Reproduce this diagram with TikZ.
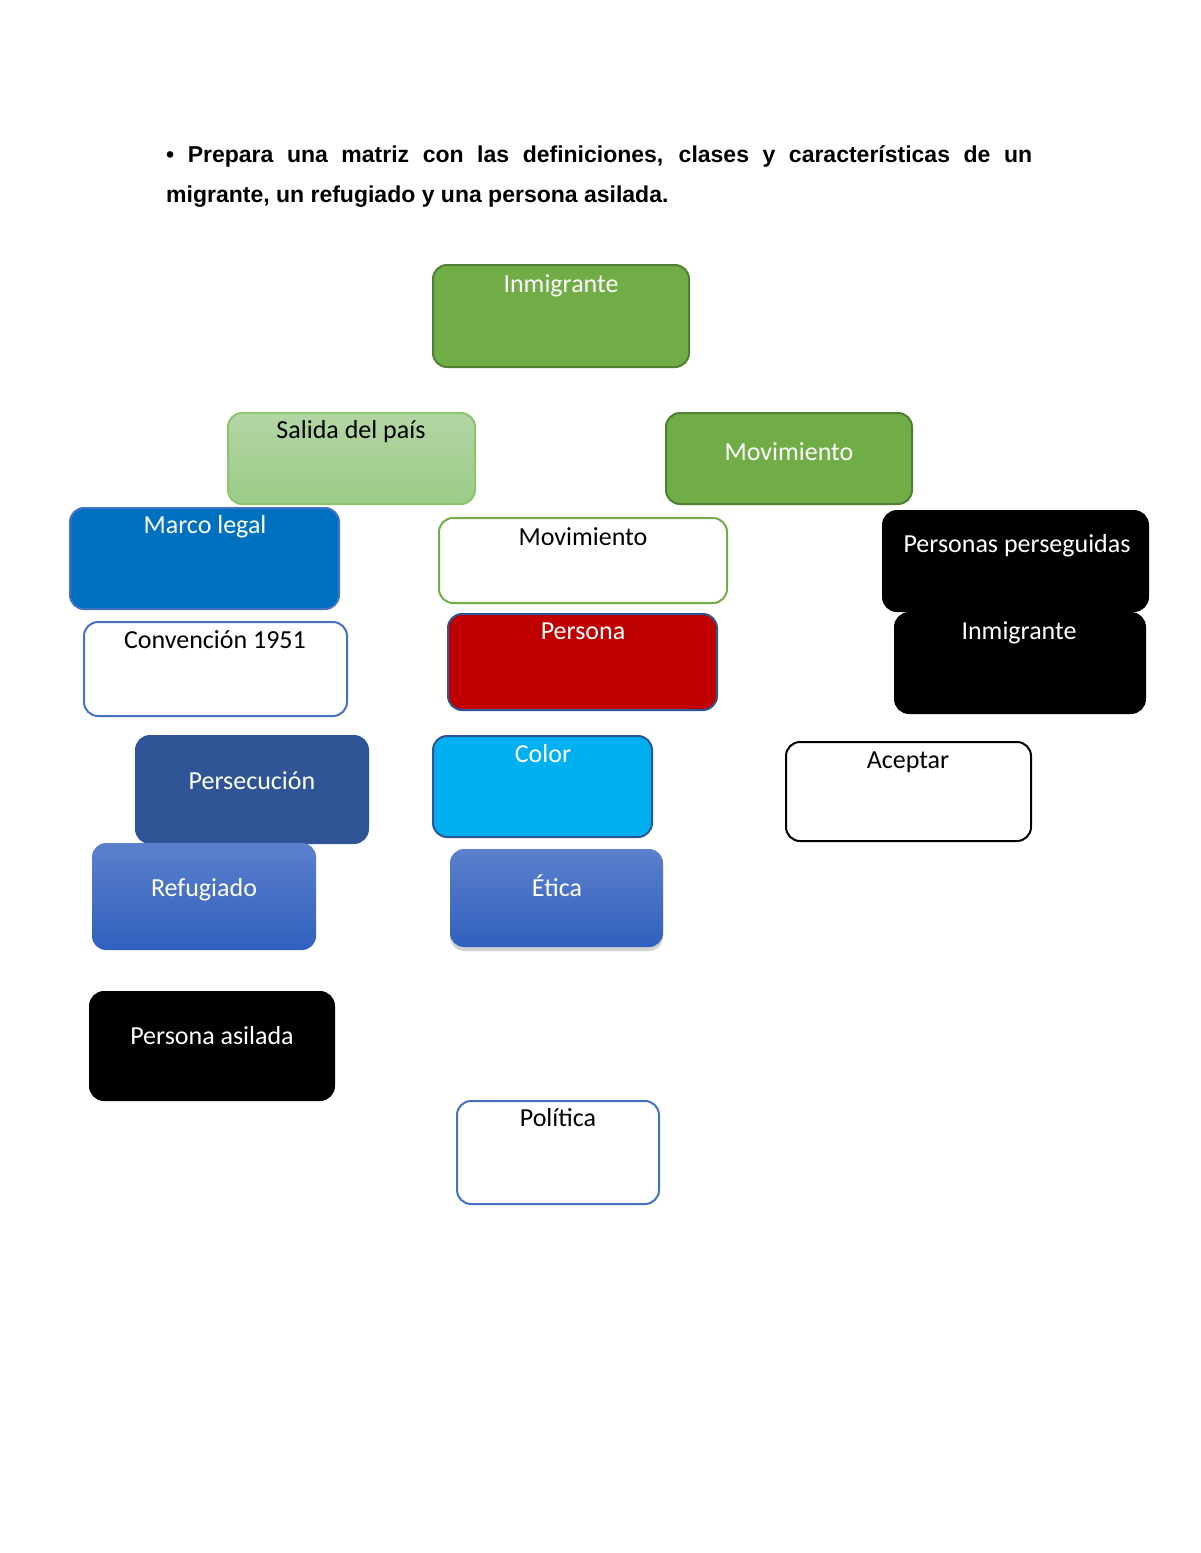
\documentclass[tikz,border=0pt]{standalone}
\usepackage{fontspec}
\setmainfont{Carlito}
\newfontfamily\headfont{Liberation Sans}
\usetikzlibrary{shadows}
\definecolor{gfill}{HTML}{70AD47}
\definecolor{gedge}{HTML}{507E32}
\definecolor{lgtop}{HTML}{B3D6A4}
\definecolor{lgbot}{HTML}{9CCB87}
\definecolor{lgedge}{HTML}{8CC46F}
\definecolor{bfill}{HTML}{0070C0}
\definecolor{bedge}{HTML}{4472C4}
\definecolor{rfill}{HTML}{C00000}
\definecolor{navy}{HTML}{2F5597}
\definecolor{cyanf}{HTML}{00B0F0}
\definecolor{gbtop}{HTML}{5B80CC}
\definecolor{gbbot}{HTML}{3060BE}
\tikzset{
  x=1pt,y=-1pt,
  box/.style={rounded corners=14pt, inner sep=0pt, line width=2pt},
  lbl/.style={anchor=mid, inner sep=0pt, font=\fontsize{26}{30}\selectfont},
  wl/.style={lbl, text=white},
  bl/.style={lbl, text=black},
  head/.style={anchor=base west, inner sep=0pt, font=\headfont\bfseries\fontsize{23}{27}\selectfont},
}
\newcommand{\bx}[6]{\node[box,#6, minimum width=#4pt, minimum height=#5pt] (#1) at (#2,#3) {};}
\begin{document}
\begin{tikzpicture}
\path[use as bounding box] (0,0) rectangle (1200,1553);
\fill[white] (0,0) rectangle (1200,1553);
% heading
\node[head] (h1) at (166,162)
  {\makebox[866pt][s]{• Prepara una matriz con las definiciones, clases y características de un}};
\node[head] (h2) at (166,202)
  {migrante, un refugiado y una persona asilada.};
% boxes
\bx{inm}{561}{316}{256}{102}{fill=gfill, draw=gedge}
\node[wl] (tinm) at (561,290) {Inmigrante};
\bx{sal}{351.5}{458.5}{247}{91}{top color=lgtop, bottom color=lgbot, draw=lgedge}
\node[bl] (tsal) at (351,436) {Salida del país};
\bx{movg}{789}{458.5}{246}{91}{fill=gfill, draw=gedge}
\node[wl] (tmovg) at (789,458) {Movimiento};
\bx{mar}{204.5}{558.5}{269}{101}{fill=bfill, draw=bedge}
\node[wl] (tmar) at (205,531) {Marco legal};
\bx{movw}{583}{560.5}{288}{85}{fill=white, draw=gfill}
\node[bl] (tmovw) at (583,543) {Movimiento};
\bx{pp}{1015.5}{561}{265}{100}{fill=black, draw=black}
\node[wl] (tpp) at (1017,550) {Personas perseguidas};
\bx{inb}{1020}{663}{250}{100}{fill=black, draw=black}
\node[wl] (tinb) at (1019,637) {Inmigrante};
\bx{conv}{215.5}{669}{263}{94}{fill=white, draw=bedge}
\node[bl] (tconv) at (215,646) {Convención 1951};
\bx{per}{582.5}{662}{269}{96}{fill=rfill, draw=navy}
\node[wl] (tper) at (583,637) {Persona};
\bx{pers}{252}{789.5}{232}{107}{fill=navy, draw=navy}
\node[wl] (tpers) at (252,787) {Persecución};
\bx{col}{542.5}{786.5}{219}{101}{fill=cyanf, draw=navy}
\node[wl] (tcol) at (543,760) {Color};
\bx{ace}{908.5}{791.5}{245}{99}{fill=white, draw=black}
\node[bl] (tace) at (908,766) {Aceptar};
\bx{ref}{204}{896.5}{224}{107}{top color=gbtop, bottom color=gbbot, draw=none}
\node[wl] (tref) at (204,894) {Refugiado};
\bx{eti}{556.5}{898}{213}{98}{top color=gbtop, bottom color=gbbot, draw=none, drop shadow={shadow xshift=0pt, shadow yshift=-4pt, opacity=0.35}}
\node[wl] (teti) at (557,894) {Ética};
\bx{asi}{212}{1046}{244}{108}{fill=black, draw=black}
\node[wl] (tasi) at (212,1042) {Persona asilada};
\bx{pol}{558}{1152.5}{202}{103}{fill=white, draw=bedge}
\node[bl] (tpol) at (558,1124) {Política};
\end{tikzpicture}
\end{document}
